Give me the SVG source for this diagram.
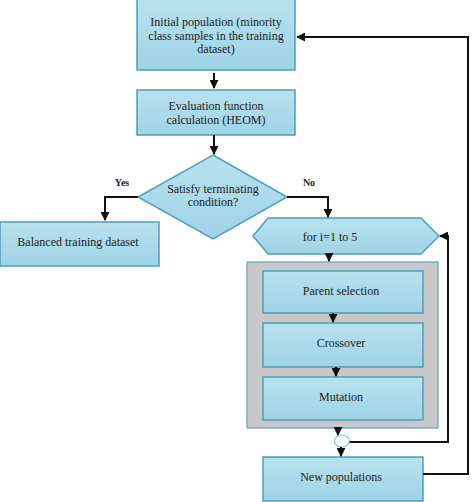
<svg xmlns="http://www.w3.org/2000/svg" width="474" height="502" viewBox="0 0 474 502">
<defs>
<linearGradient id="g" x1="0" y1="0" x2="0" y2="1">
<stop offset="0" stop-color="#b8e1ee"/>
<stop offset="1" stop-color="#9fd3e6"/>
</linearGradient>
<marker id="ah" viewBox="0 0 10 10" refX="9" refY="5" markerWidth="4.5" markerHeight="4.5" orient="auto">
<path d="M0,0 L10,5 L0,10 z" fill="#111"/>
</marker>
<style>
.box{fill:url(#g);stroke:#4f9fba;stroke-width:1.5}
.t{font-family:'Liberation Serif','Times New Roman','DejaVu Serif',serif;font-size:12px;fill:#222;text-anchor:middle}
.lbl{font-family:'Liberation Serif','Times New Roman','DejaVu Serif',serif;font-size:10px;font-weight:bold;fill:#222;text-anchor:middle}
.c{fill:none;stroke:#111;stroke-width:2}
.ca{fill:none;stroke:#111;stroke-width:2;marker-end:url(#ah)}
</style>
</defs>
<rect width="474" height="502" fill="#fff"/>
<g id="container">
<rect x="247" y="262" width="191" height="166" fill="#c8c8c8" stroke="#5aa3bd" stroke-width="1.2"/>
</g>
<g id="initial">
<rect class="box" x="137" y="-1" width="158" height="71"/>
<text class="t" x="216" y="26">Initial population (minority</text>
<text class="t" x="216" y="40">class samples in the training</text>
<text class="t" x="216" y="53">dataset)</text>
</g>
<g id="evaluation">
<rect class="box" x="137" y="90" width="158" height="45"/>
<text class="t" x="216" y="110">Evaluation function</text>
<text class="t" x="216" y="124">calculation (HEOM)</text>
</g>
<g id="decision">
<polygon class="box" points="213,155 287,197 213,239 138,197"/>
<text class="t" x="213" y="193">Satisfy terminating</text>
<text class="t" x="213" y="206">condition?</text>
</g>
<g id="balanced">
<rect class="box" x="0" y="222" width="159" height="44"/>
<text class="t" x="78" y="246">Balanced training dataset</text>
</g>
<g id="loop">
<polygon class="box" points="253,236 268,218 421,218 439,236 421,254 268,254"/>
<text class="t" x="330" y="241">for i=1 to 5</text>
</g>
<g id="parent">
<rect class="box" x="263" y="271" width="160" height="42"/>
<text class="t" x="341" y="295">Parent selection</text>
</g>
<g id="crossover">
<rect class="box" x="263" y="323" width="160" height="44"/>
<text class="t" x="341" y="347">Crossover</text>
</g>
<g id="mutation">
<rect class="box" x="263" y="377" width="160" height="43"/>
<text class="t" x="341" y="401">Mutation</text>
</g>
<g id="merge">
<ellipse cx="342" cy="441" rx="7.5" ry="6" fill="#fff" stroke="#8cc4d8" stroke-width="1.2"/>
</g>
<g id="newpop">
<rect class="box" x="263" y="457" width="160" height="44"/>
<text class="t" x="341" y="481">New populations</text>
</g>
<g id="connectors">
<path class="ca" d="M214,73 V88"/>
<path class="ca" d="M214,135 V154"/>
<path class="ca" d="M138,197 H105 V220"/>
<path class="ca" d="M287,197 H328 V217"/>
<path class="ca" d="M329,254 V261"/>
<path class="ca" d="M333,313 V322"/>
<path class="ca" d="M336,367 V376"/>
<path class="ca" d="M338,428 V435"/>
<path class="ca" d="M341,447 V456"/>
<path class="ca" d="M349.5,442 H448 V236 H440"/>
<path class="ca" d="M423,474 H468 V37 H297"/>
<text class="lbl" x="122" y="186">Yes</text>
<text class="lbl" x="309" y="186">No</text>
</g>
</svg>
